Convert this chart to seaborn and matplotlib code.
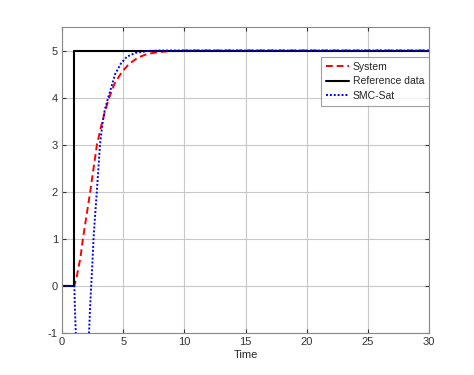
import matplotlib
matplotlib.use("Agg")
import matplotlib.pyplot as plt
import seaborn as sns
import pandas as pd

# Reference step
ref_t = [0, 1.0, 1.0, 30]
ref_y = [0, 0, 5, 5]

# System response (red dashed)
sys_t = [0, 1.0, 1.2, 1.5, 1.7, 2.0, 2.3, 2.6, 2.85, 3.2, 3.5, 3.85, 4.3, 4.9, 5.5, 6.2, 7.0, 8.0, 9.0, 10.0, 30]
sys_y = [0, 0, 0.2, 0.6, 1.0, 1.5, 2.0, 2.55, 3.0, 3.4, 3.7, 4.0, 4.3, 4.55, 4.72, 4.85, 4.93, 4.97, 4.99, 5.0, 5.0]

# SMC-Sat response (blue dotted)
smc_t = [0, 1.0, 1.05, 1.12, 1.3, 1.6, 1.9, 2.1, 2.2, 2.3, 2.38, 2.48, 2.57, 2.7, 2.84, 2.97, 3.1, 3.3, 3.5, 3.77, 4.0, 4.34, 4.8, 5.3, 6.0, 7.0, 8.0, 30]
smc_y = [0, 0, -0.5, -1.0, -2.0, -2.5, -2.0, -1.3, -1.0, -0.4, 0.0, 0.5, 1.0, 1.5, 2.0, 2.5, 3.0, 3.45, 3.75, 4.0, 4.2, 4.5, 4.72, 4.87, 4.95, 4.99, 5.0, 5.0]

sns.set_style("white")
plt.rcParams['font.family'] = ['Liberation Sans', 'DejaVu Sans']
plt.rcParams['axes.unicode_minus'] = False

fig = plt.figure(figsize=(4.74, 3.75), dpi=100)
ax = fig.add_axes([0.131, 0.112, 0.774, 0.816])

df_sys = pd.DataFrame({"t": sys_t, "y": sys_y})
df_ref = pd.DataFrame({"t": ref_t, "y": ref_y})
df_smc = pd.DataFrame({"t": smc_t, "y": smc_y})

sns.lineplot(data=df_sys, x="t", y="y", ax=ax, color="#ff0000", linestyle=(0, (3.5, 2)), linewidth=1.4, label="System", sort=False, estimator=None)
sns.lineplot(data=df_ref, x="t", y="y", ax=ax, color="black", linewidth=1.5, label="Reference data", sort=False, estimator=None)
sns.lineplot(data=df_smc, x="t", y="y", ax=ax, color="#0000ff", linestyle=(0, (1, 1)), linewidth=1.4, label="SMC-Sat", sort=False, estimator=None)

ax.set_xlim(0, 30)
ax.set_ylim(-1, 5.5)
ax.set_xticks([0, 5, 10, 15, 20, 25, 30])
ax.set_yticks([-1, 0, 1, 2, 3, 4, 5])
ax.set_xlabel("Time", fontsize=8, labelpad=2)
ax.set_ylabel("")
ax.grid(True, color="#c8c8c8", linewidth=0.8)
ax.tick_params(axis="both", which="both", direction="in", length=3, labelsize=8,
               top=True, right=True, bottom=True, left=True, colors="#333333", pad=3)
for s in ax.spines.values():
    s.set_color("#888888")
    s.set_linewidth(0.8)

leg = ax.legend(loc="upper right", bbox_to_anchor=(1.0, 0.902), fontsize=7.5, frameon=True,
                fancybox=False, borderpad=0.45, handlelength=2.2, labelspacing=0.45, handletextpad=0.4,
                borderaxespad=0)
leg.get_frame().set_edgecolor("#888888")
leg.get_frame().set_linewidth(0.8)

fig.savefig("out.png", dpi=100, facecolor="white")
